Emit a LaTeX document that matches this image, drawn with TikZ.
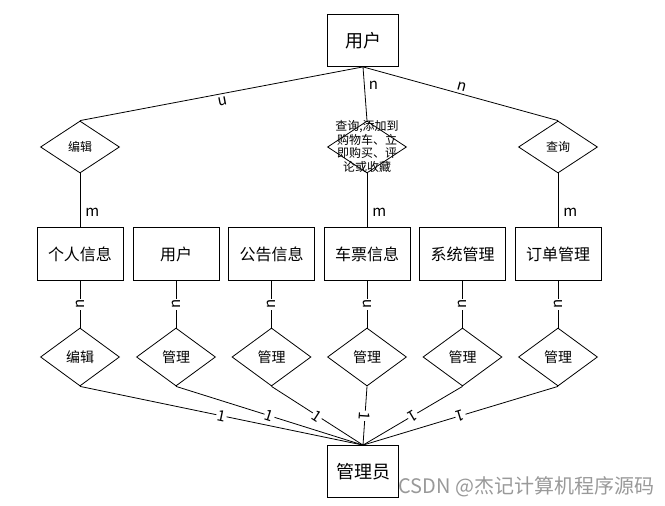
\documentclass[tikz,border=0pt]{standalone}
\usepackage{fontspec}
\newfontfamily\cjk{Noto Sans CJK SC}
\usetikzlibrary{shapes.geometric}

\begin{document}
\begin{tikzpicture}[x=1pt, y=-1pt, font=\cjk, line width=0.8pt,
    topbox/.style={draw, minimum width=71pt, minimum height=52pt, inner sep=0pt, font=\cjk\fontsize{18}{20}\selectfont},
    ent/.style={draw, minimum width=86pt, minimum height=53pt, inner sep=0pt, font=\cjk\fontsize{16}{18}\selectfont},
    rel/.style={draw, diamond, minimum width=79pt, minimum height=52pt, inner sep=0pt, font=\cjk\fontsize{12}{14}\selectfont},
    mng/.style={rel, minimum height=58pt, font=\cjk\fontsize{14}{16}\selectfont},
    card/.style={font=\cjk\fontsize{15}{17}\selectfont, inner sep=1pt}]
    \useasboundingbox (0,0) rectangle (665,506);

    % entities at top and bottom
    \node[topbox] (usr) at (363, 40.5) {用户};
    \node[topbox] (adm) at (363, 471.5) {管理员};

    % relations of the user
    \node[rel] (rEdit) at (80, 147) {编辑};
    \node[rel] (rBuy) at (367, 147) {};
    \node[font=\cjk\fontsize{12}{13.8}\selectfont, align=center, inner sep=0pt] (rBuyTxt) at (367, 146.5) {查询,添加到\\购物车、立\\即购买、评\\论或收藏};
    \node[rel] (rSeek) at (558, 147) {查询};

    % middle row of entities
    \node[ent] (eInfo) at (80, 254) {个人信息};
    \node[ent] (eUser) at (176, 254) {用户};
    \node[ent] (eNote) at (271.5, 254) {公告信息};
    \node[ent] (eTicket) at (367, 254) {车票信息};
    \node[ent] (eSys) at (462.5, 254) {系统管理};
    \node[ent] (eOrder) at (558, 254) {订单管理};

    % relations of the admin
    \node[mng] (mInfo) at (80, 357) {编辑};
    \node[mng] (mUser) at (176, 357) {管理};
    \node[mng] (mNote) at (271.5, 357) {管理};
    \node[mng] (mTicket) at (367, 357) {管理};
    \node[mng] (mSys) at (462.5, 357) {管理};
    \node[mng] (mOrder) at (558, 357) {管理};

    % user side
    \draw (usr.south) -- (rEdit.north) node[card, midway, sloped, allow upside down, above=2pt] {n};
    \draw (usr.south) -- (rBuy.north) node[card, pos=0.35, right=3pt] {n};
    \draw (usr.south) -- (rSeek.north) node[card, midway, sloped, allow upside down, above=2pt] {n};
    \draw (rEdit.south) -- (eInfo.north) node[card, pos=0.72, right=4pt] {m};
    \draw (rBuy.south) -- (eTicket.north) node[card, pos=0.72, right=4pt] {m};
    \draw (rSeek.south) -- (eOrder.north) node[card, pos=0.72, right=4pt] {m};

    % admin side
    \draw (mInfo.north) -- (eInfo.south) node[card, midway, sloped, allow upside down, fill=white] {n};
    \draw (mUser.north) -- (eUser.south) node[card, midway, sloped, allow upside down, fill=white] {n};
    \draw (mNote.north) -- (eNote.south) node[card, midway, sloped, allow upside down, fill=white] {n};
    \draw (mTicket.north) -- (eTicket.south) node[card, midway, sloped, allow upside down, fill=white] {n};
    \draw (mSys.north) -- (eSys.south) node[card, midway, sloped, allow upside down, fill=white] {n};
    \draw (mOrder.north) -- (eOrder.south) node[card, midway, sloped, allow upside down, fill=white] {n};

    \draw (mInfo.south) -- (adm.north) node[card, midway, sloped, allow upside down, fill=white] {1};
    \draw (mUser.south) -- (adm.north) node[card, midway, sloped, allow upside down, fill=white] {1};
    \draw (mNote.south) -- (adm.north) node[card, midway, sloped, allow upside down, fill=white] {1};
    \draw (mTicket.south) -- (adm.north) node[card, midway, sloped, allow upside down, fill=white] {1};
    \draw (mSys.south) -- (adm.north) node[card, midway, sloped, allow upside down, fill=white] {1};
    \draw (mOrder.south) -- (adm.north) node[card, midway, sloped, allow upside down, fill=white] {1};

    \node[text=black!40, font=\cjk\fontsize{20}{22}\selectfont, anchor=west, inner sep=0pt] (mark) at (398, 487) {CSDN @杰记计算机程序源码};
\end{tikzpicture}
\end{document}
